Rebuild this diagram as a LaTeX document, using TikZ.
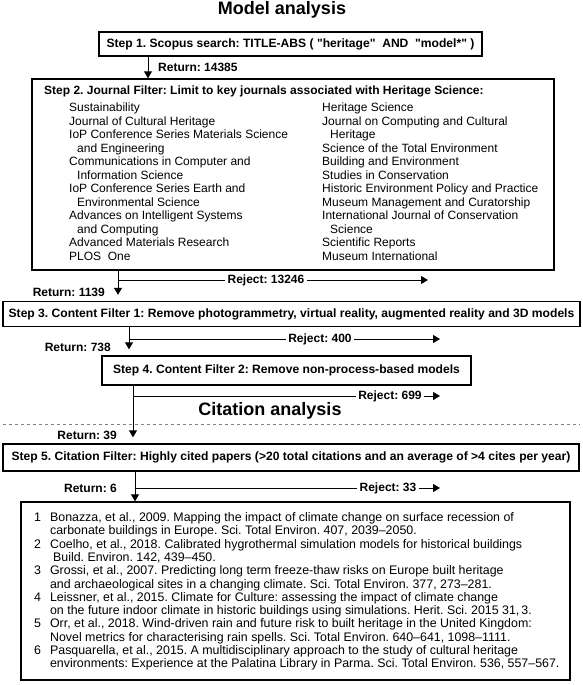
\documentclass[tikz,border=0pt]{standalone}
\usepackage{fontspec}
\setmainfont{Liberation Sans}[Ligatures=TeXOff]
\usetikzlibrary{arrows.meta}
\frenchspacing

\begin{document}
\begin{tikzpicture}[
    x=1pt, y=-1pt,
    stepbox/.style={draw, line width=1.4pt, inner sep=0pt, font=\fontsize{12.1}{13}\selectfont\bfseries},
    lbl/.style={inner sep=2pt, font=\fontsize{12}{13}\selectfont\bfseries},
    heading/.style={font=\fontsize{18}{20}\selectfont\bfseries},
    jrnl/.style={anchor=north west, inner sep=0pt, align=left, font=\fontsize{12}{13.5}\selectfont},
    flow/.style={line width=1pt, -{Triangle[length=7pt,width=8pt]}},
    branch/.style={line width=1pt}
]
\useasboundingbox (0,0) rectangle (583,685);

% model analysis part
\node[heading] (model) at (282,10) {Model analysis};
\node[stepbox, minimum width=383, minimum height=24] (step1) at (290.5,44)
  {Step 1. Scopus search: TITLE-ABS ( "heritage"~~AND~~"model*" )};
\node[draw, line width=1.4pt, minimum width=522, minimum height=191, inner sep=0pt] (step2) at (293,174.5) {};
\node[lbl, anchor=west, inner sep=0pt] (s2head) at (44,91)
  {Step 2. Journal Filter: Limit to key journals associated with Heritage Science:};
\node[jrnl] (leftcol) at (69,103) {Sustainability\\
  Journal of Cultural Heritage\\
  IoP Conference Series Materials Science\\
  \hspace{8pt}and Engineering\\
  Communications in Computer and\\
  \hspace{8pt}Information Science\\
  IoP Conference Series Earth and\\
  \hspace{8pt}Environmental Science\\
  Advances on Intelligent Systems\\
  \hspace{8pt}and Computing\\
  Advanced Materials Research\\
  PLOS~~One};
\node[jrnl] (rightcol) at (322,103) {Heritage Science\\
  Journal on Computing and Cultural\\
  \hspace{8pt}Heritage\\
  Science of the Total Environment\\
  Building and Environment\\
  Studies in Conservation\\
  Historic Environment Policy and Practice\\
  Museum Management and Curatorship\\
  International Journal of Conservation\\
  \hspace{8pt}Science\\
  Scientific Reports\\
  Museum International};
\node[stepbox, minimum width=577, minimum height=25] (step3) at (291.5,314)
  {Step 3. Content Filter 1: Remove photogrammetry, virtual reality, augmented reality and 3D models};
\node[stepbox, minimum width=369, minimum height=29] (step4) at (286.5,370.5)
  {Step 4. Content Filter 2: Remove non-process-based models};

% citation analysis part
\node[heading] (citation) at (270,411) {Citation analysis};
\node[stepbox, minimum width=576, minimum height=27] (step5) at (291,457.5)
  {Step 5. Citation Filter: Highly cited papers (>20 total citations and an average of >4 cites per year)};
\node[draw, line width=1.4pt, minimum width=549, minimum height=178, inner sep=0pt] (papers) at (295.5,591) {};
\node[anchor=north west, inner sep=0pt, font=\fontsize{12.4}{13.3}\selectfont] (paperlist) at (34,512) {%
  \begin{tabular}{@{}r@{\hspace{9pt}}l@{}}
  1 & Bonazza, et al., 2009. Mapping the impact of climate change on surface recession of\\
    & carbonate buildings in Europe. Sci. Total Environ. 407, 2039–2050.\\
  2 & Coelho, et al., 2018. Calibrated hygrothermal simulation models for historical buildings\\
    & \hspace{3pt}Build. Environ. 142, 439–450.\\
  3 & Grossi, et al., 2007. Predicting long term freeze-thaw risks on Europe built heritage\\
    & and archaeological sites in a changing climate. Sci. Total Environ. 377, 273–281.\\
  4 & Leissner, et al., 2015. Climate for Culture: assessing the impact of climate change\\
    & on the future indoor climate in historic buildings using simulations. Herit. Sci. 2015 31,\,3.\\
  5 & Orr, et al., 2018. Wind-driven rain and future risk to built heritage in the United Kingdom:\\
    & Novel metrics for characterising rain spells. Sci. Total Environ. 640–641, 1098–1111.\\
  6 & Pasquarella, et al., 2015. A multidisciplinary approach to the study of cultural heritage\\
    & environments: Experience at the Palatina Library in Parma. Sci. Total Environ. 536, 557–567.
  \end{tabular}};

% dashed separator
\coordinate (sepL) at (3,424);
\coordinate (sepR) at (580,424);
\draw[gray, dashed, line width=0.8pt] (sepL) -- (sepR);

% returns and rejects
\coordinate (j1) at (148,0);
\coordinate (j2) at (118,280);
\coordinate (j3) at (129,339);
\coordinate (j4) at (133,396);
\coordinate (j5) at (135,488);
\node[lbl, anchor=west] (ret1) at (156,67) {Return: 14385};
\node[lbl, anchor=east] (ret2) at (107,292) {Return: 1139};
\node[lbl, anchor=east] (ret3) at (113,347) {Return: 738};
\node[lbl, anchor=east] (ret4) at (119,435) {Return: 39};
\node[lbl, anchor=east] (ret5) at (119,488) {Return: 6};
\node[lbl] (rej1) at (266,280) {Reject: 13246};
\node[lbl] (rej2) at (320,339) {Reject: 400};
\node[lbl] (rej3) at (390,396) {Reject: 699};
\node[lbl] (rej4) at (388,488) {Reject: 33};
\coordinate (rej1end) at (428,280);
\coordinate (rej2end) at (440,339);
\coordinate (rej3end) at (440,396);
\coordinate (rej4end) at (440,488);

\draw[flow] (step1.south -| j1) -- (step2.north -| j1);
\draw[flow, shorten >=6pt] (step2.south -| j2) -- (step3.north -| j2);
\draw[flow, shorten >=6pt] (step3.south -| j3) -- (step4.north -| j3);
\draw[flow, shorten >=6pt] (step4.south -| j4) -- (step5.north -| j4);
\draw[flow] (step5.south -| j5) -- (papers.north -| j5);
\draw[branch] (j2) -- (rej1.west);
\draw[branch] (j3) -- (rej2.west);
\draw[branch] (j4) -- (rej3.west);
\draw[branch] (j5) -- (rej4.west);
\draw[flow] (rej1.east) -- (rej1end);
\draw[flow] (rej2.east) -- (rej2end);
\draw[flow] (rej3.east) -- (rej3end);
\draw[flow] (rej4.east) -- (rej4end);
\end{tikzpicture}
\end{document}
